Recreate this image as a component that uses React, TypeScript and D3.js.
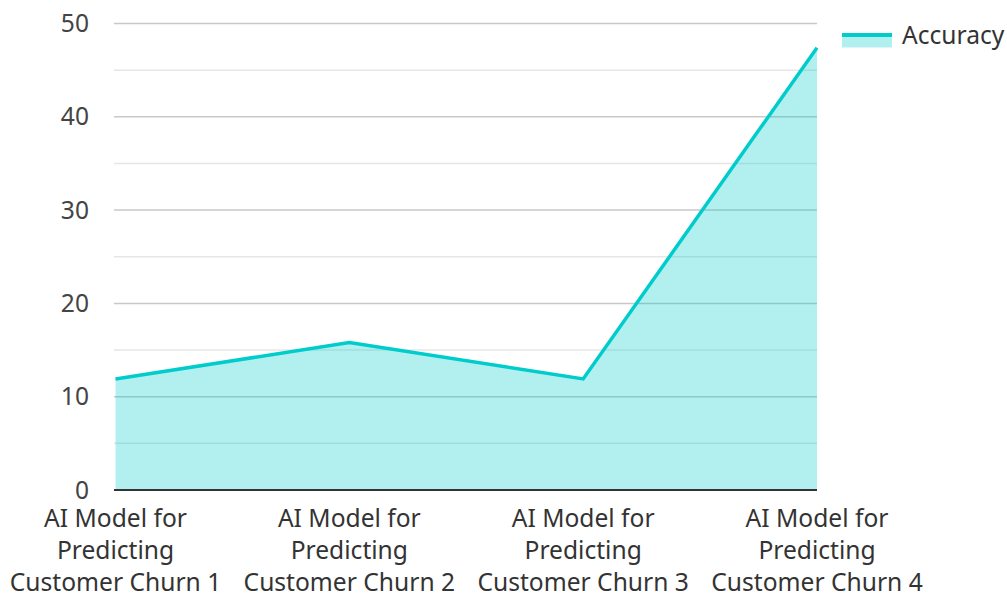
import React from "react";
import * as d3 from "d3";

const categories = [
  "AI Model for Predicting Customer Churn 1",
  "AI Model for Predicting Customer Churn 2",
  "AI Model for Predicting Customer Churn 3",
  "AI Model for Predicting Customer Churn 4",
];
const categoryLines = [
  ["AI Model for", "Predicting", "Customer Churn 1"],
  ["AI Model for", "Predicting", "Customer Churn 2"],
  ["AI Model for", "Predicting", "Customer Churn 3"],
  ["AI Model for", "Predicting", "Customer Churn 4"],
];
const accuracy = [11.9, 15.8, 11.9, 47.4];
const yTicks = [0, 10, 20, 30, 40, 50];
const yMinorTicks = [5, 15, 25, 35, 45];
const seriesName = "Accuracy";

const W = 1007;
const H = 594;
const FONT = "'Noto Sans', 'Open Sans', sans-serif";
const TEAL = "rgb(0,204,204)";
const FS = 24.6;

export default function App() {
  const x = d3.scalePoint<string>().domain(categories).range([115.5, 817]);
  const y = d3.scaleLinear().domain([0, 50]).range([490, 23.5]);
  const data = categories.map((c, i) => ({ c, v: accuracy[i] }));
  const area = d3
    .area<{ c: string; v: number }>()
    .x((d) => x(d.c)!)
    .y0(y(0))
    .y1((d) => y(d.v));
  const line = d3
    .line<{ c: string; v: number }>()
    .x((d) => x(d.c)!)
    .y((d) => y(d.v));
  const [x0, x1] = [114, 817];

  return (
    <svg
      width={W}
      height={H}
      style={{ position: "absolute", left: 0, top: 0, fontFamily: FONT }}
    >
      <rect width={W} height={H} fill="#fff" />
      {yMinorTicks.map((t) => (
        <line key={"m" + t} x1={x0} x2={x1} y1={y(t)} y2={y(t)} stroke="#e6e6e6" strokeWidth={1.5} />
      ))}
      {yTicks.filter((t) => t > 0).map((t) => (
        <line key={"g" + t} x1={x0} x2={x1} y1={y(t)} y2={y(t)} stroke="#c8c8c8" strokeWidth={1.5} />
      ))}
      <path d={area(data)!} fill={TEAL} fillOpacity={0.3} />
      <path d={line(data)!} fill="none" stroke={TEAL} strokeWidth={3.5} strokeLinejoin="miter" />
      <line x1={x0} x2={x1} y1={y(0)} y2={y(0)} stroke="#333" strokeWidth={2} />
      {yTicks.map((t) => (
        <text key={"t" + t} x={89} y={y(t)} dy="0.35em" textAnchor="end" fontSize={FS} fill="#444">
          {t}
        </text>
      ))}
      {categories.map((c, i) => (
        <text key={c} textAnchor="middle" fontSize={FS} fill="#333">
          {categoryLines[i].map((ln, j) => (
            <tspan key={j} x={x(c)} y={527 + j * 32}>
              {ln}
            </tspan>
          ))}
        </text>
      ))}
      <g>
        <rect x={842} y={35} width={50} height={12.5} fill={TEAL} fillOpacity={0.3} />
        <line x1={842} x2={892} y1={35} y2={35} stroke={TEAL} strokeWidth={4} />
        <text x={902} y={43.5} fontSize={FS} fill="#333">
          {seriesName}
        </text>
      </g>
    </svg>
  );
}
